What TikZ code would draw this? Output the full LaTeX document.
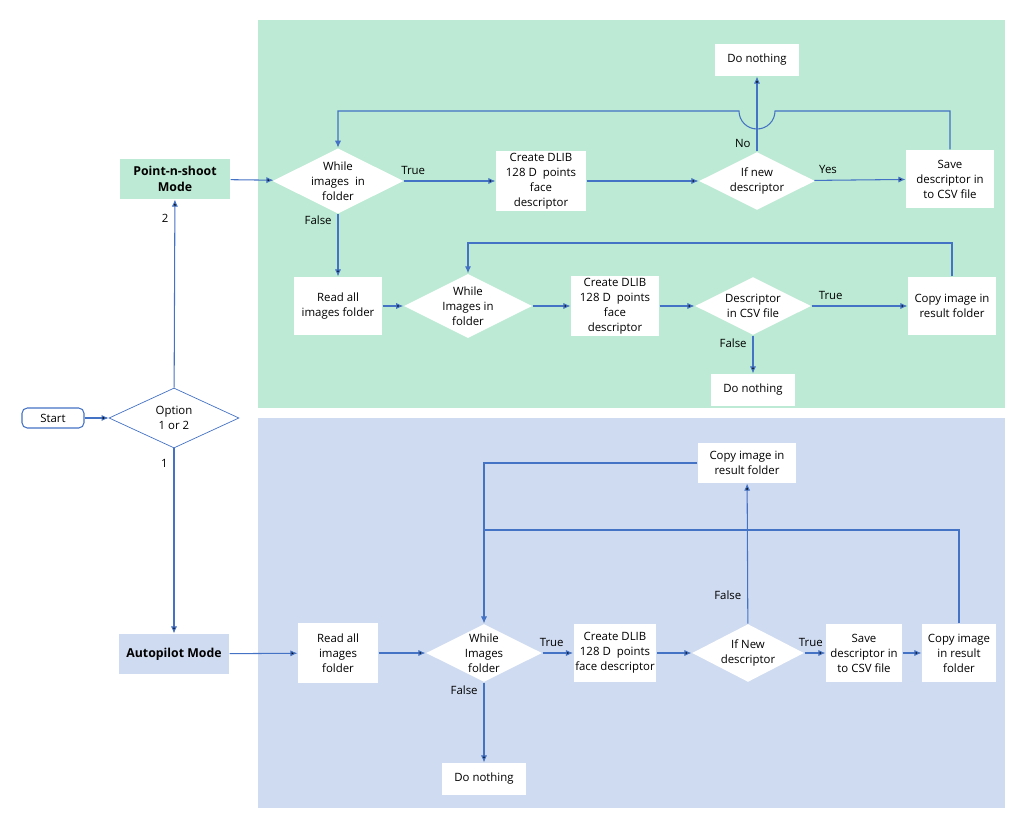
\documentclass[tikz,border=0pt]{standalone}
\usepackage{fontspec}
\setmainfont{Open Sans}
\usetikzlibrary{shapes, positioning, arrows.meta}
\definecolor{pgreen}{RGB}{188,234,212}
\definecolor{pblue}{RGB}{207,219,240}
\definecolor{lblue}{RGB}{68,114,196}
\begin{document}
\begin{tikzpicture}[x=0.02cm, y=-0.02cm,
line width=0.6pt,
font=\fontsize{6.5}{8.5}\selectfont,
arr/.style={draw=lblue, -{Latex[length=4pt,width=3.5pt]}},
ln/.style={draw=lblue},
block/.style={fill=white, rectangle, align=center, inner sep=1pt},
cond/.style={fill=white, diamond, aspect=2, align=center, inner sep=0pt},
lbl/.style={font=\fontsize{6.5}{8}\selectfont}]

\useasboundingbox (0,0) rectangle (1024,828);
\fill[pgreen] (258,20) rectangle (1005,408);
\fill[pblue] (258,418) rectangle (1005,808);

\node[block, draw=lblue, rounded corners=3pt, minimum width=62*0.02cm, minimum height=20*0.02cm] (start) at (53,418) {Start};
\node[cond, draw=lblue, line width=0.4pt, minimum width=130*0.02cm, minimum height=60*0.02cm] (opt) at (174,418) {Option\\1 or 2};
\node[block, fill=pgreen, font=\fontsize{7}{9}\selectfont\bfseries, minimum width=110*0.02cm, minimum height=40*0.02cm] (pns) at (175,179) {Point-n-shoot\\Mode};
\node[block, fill=pblue, font=\fontsize{7}{9}\selectfont\bfseries, minimum width=110*0.02cm, minimum height=40*0.02cm] (auto) at (174,654) {Autopilot Mode};

% point-n-shoot
\node[cond, minimum width=118*0.02cm, minimum height=60*0.02cm] (w1) at (338,181) {While\\images~ in\\folder};
\node[block, minimum width=90*0.02cm, minimum height=60*0.02cm] (c1) at (541,181) {Create DLIB\\128 D~ points\\face\\descriptor};
\node[cond, minimum width=116*0.02cm, minimum height=58*0.02cm] (n1) at (757,181) {If new\\descriptor};
\node[block, minimum width=88*0.02cm, minimum height=58*0.02cm] (s1) at (950,179) {Save\\descriptor in\\to CSV file};
\node[block, minimum width=84*0.02cm, minimum height=32*0.02cm] (dn1) at (757,60) {Do nothing};

\node[block, minimum width=88*0.02cm, minimum height=58*0.02cm] (r1) at (338,306) {Read all\\images folder};
\node[cond, minimum width=114*0.02cm, minimum height=58*0.02cm] (w2) at (468,306) {While\\Images in\\folder};
\node[block, minimum width=88*0.02cm, minimum height=60*0.02cm] (c2) at (615,306) {Create DLIB\\128 D~ points\\face\\descriptor};
\node[cond, minimum width=116*0.02cm, minimum height=58*0.02cm] (d2) at (753,306) {Descriptor\\in CSV file};
\node[block, minimum width=88*0.02cm, minimum height=58*0.02cm] (cp2) at (952,306) {Copy image in\\result folder};
\node[block, minimum width=84*0.02cm, minimum height=32*0.02cm] (dn2) at (753,390) {Do nothing};

% autopilot
\node[block, minimum width=80*0.02cm, minimum height=60*0.02cm] (r3) at (338,653) {Read all\\images\\folder};
\node[cond, minimum width=116*0.02cm, minimum height=58*0.02cm] (w3) at (484,653) {While\\Images\\folder};
\node[block, minimum width=80*0.02cm, minimum height=58*0.02cm] (c3) at (615,653) {Create DLIB\\128 D~ points\\face descriptor};
\node[cond, minimum width=112*0.02cm, minimum height=58*0.02cm] (n3) at (748,653) {If New\\descriptor};
\node[block, minimum width=76*0.02cm, minimum height=58*0.02cm] (s3) at (864,653) {Save\\descriptor in\\to CSV file};
\node[block, minimum width=74*0.02cm, minimum height=58*0.02cm] (cp3) at (959,653) {Copy image\\in result\\folder};
\node[block, minimum width=98*0.02cm, minimum height=40*0.02cm] (cpt) at (747,463) {Copy image in\\result folder};
\node[block, minimum width=84*0.02cm, minimum height=32*0.02cm] (dn3) at (484,779) {Do nothing};

\coordinate (j1) at (484,530);

\path[arr]
 (start) edge (opt)
 (opt) edge node[lbl, left, pos=0.9] {2} (pns)
 (opt) edge node[lbl, left, pos=0.08] {1} (auto)
 (pns) edge (w1)
 (w1) edge node[lbl, above, pos=0.1] {True} (c1)
 (c1) edge (n1)
 (n1) edge node[lbl, above, pos=0.15] {Yes} (s1)
 (n1) edge node[lbl, left, pos=0.1] {No} (dn1)
 (w1) edge node[lbl, left, pos=0.1] {False} (r1)
 (r1) edge (w2)
 (w2) edge (c2)
 (c2) edge (d2)
 (d2) edge node[lbl, above, pos=0.2] {True} (cp2)
 (d2) edge node[lbl, left, pos=0.2] {False} (dn2)
 (auto) edge (r3)
 (r3) edge (w3)
 (w3) edge node[lbl, above, pos=0.3] {True} (c3)
 (c3) edge (n3)
 (n3) edge node[lbl, above, pos=0.3] {True} (s3)
 (s3) edge (cp3)
 (n3) edge node[lbl, left, pos=0.2] {False} (cpt)
 (w3) edge node[lbl, left, pos=0.1] {False} (dn3);

% loops
\draw[arr] (s1.north) |- (775,111) arc (0:180:18) -- (338,111) -- (w1.north);
\draw[arr] (cp2.north) |- (468,243) -- (w2.north);
\draw[ln] (cp3.north) |- (j1);
\draw[arr] (cpt.west) -| (j1) -- (w3.north);

\end{tikzpicture}
\end{document}
